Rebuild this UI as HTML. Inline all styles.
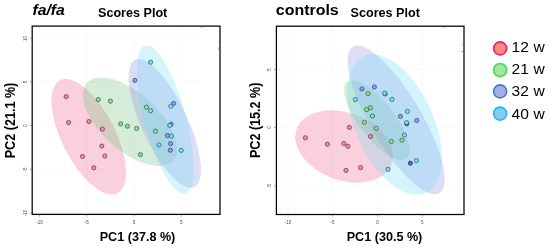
<!DOCTYPE html>
<html><head><meta charset="utf-8"><title>Scores Plot</title>
<style>
html,body{margin:0;padding:0;background:#fff;}
body{width:550px;height:247px;overflow:hidden;}
svg{display:block;font-family:"Liberation Sans",Arial,sans-serif;}
.t{font-weight:bold;fill:#000;}
.tk{font-size:4.5px;fill:#444;}
.grid{stroke:#f0f0f0;stroke-width:0.5;}
.pt{stroke-width:0.75;}
</style></head><body>
<svg width="550" height="247" viewBox="0 0 550 247">
<rect width="550" height="247" fill="#fff"/>
<line class="grid" x1="39.5" y1="26.1" x2="39.5" y2="214.4"/>
<line class="grid" x1="86.8" y1="26.1" x2="86.8" y2="214.4"/>
<line class="grid" x1="134" y1="26.1" x2="134" y2="214.4"/>
<line class="grid" x1="181.3" y1="26.1" x2="181.3" y2="214.4"/>
<line class="grid" x1="32.2" y1="38.3" x2="200" y2="38.3"/>
<line class="grid" x1="32.2" y1="81.8" x2="200" y2="81.8"/>
<line class="grid" x1="32.2" y1="125.5" x2="200" y2="125.5"/>
<line class="grid" x1="32.2" y1="169.3" x2="200" y2="169.3"/>
<line class="grid" x1="32.2" y1="213" x2="200" y2="213"/>
<ellipse cx="88.75" cy="136.75" rx="63.31" ry="26.73" transform="rotate(63.12 88.75 136.75)" fill="rgba(238,98,138,0.30)"/>
<ellipse cx="129.85" cy="121.70" rx="57.98" ry="28.70" transform="rotate(42.05 129.85 121.70)" fill="rgba(120,196,134,0.32)"/>
<ellipse cx="164.75" cy="123.40" rx="70.20" ry="23.00" transform="rotate(65.10 164.75 123.40)" fill="rgba(138,145,232,0.30)"/>
<ellipse cx="165.30" cy="119.65" rx="76.80" ry="20.80" transform="rotate(74.80 165.30 119.65)" fill="rgba(118,218,245,0.30)"/>
<circle class="pt" cx="66.2" cy="96.6" r="2.1" fill="#f888a8" stroke="#6e3448"/>
<circle class="pt" cx="68.6" cy="122.5" r="2.1" fill="#f888a8" stroke="#6e3448"/>
<circle class="pt" cx="88.9" cy="121.5" r="2.1" fill="#f888a8" stroke="#6e3448"/>
<circle class="pt" cx="102.4" cy="129.1" r="2.1" fill="#f888a8" stroke="#6e3448"/>
<circle class="pt" cx="101.8" cy="146.1" r="2.1" fill="#f888a8" stroke="#6e3448"/>
<circle class="pt" cx="82.5" cy="156.5" r="2.1" fill="#f888a8" stroke="#6e3448"/>
<circle class="pt" cx="104.8" cy="156" r="2.1" fill="#f888a8" stroke="#6e3448"/>
<circle class="pt" cx="93.8" cy="167.8" r="2.1" fill="#f888a8" stroke="#6e3448"/>
<circle class="pt" cx="98.2" cy="99.6" r="2.1" fill="#8ae29c" stroke="#36603f"/>
<circle class="pt" cx="110.4" cy="101.2" r="2.1" fill="#8ae29c" stroke="#36603f"/>
<circle class="pt" cx="120.6" cy="123.9" r="2.1" fill="#8ae29c" stroke="#36603f"/>
<circle class="pt" cx="127.4" cy="126.2" r="2.1" fill="#8ae29c" stroke="#36603f"/>
<circle class="pt" cx="136.6" cy="128.5" r="2.1" fill="#8ae29c" stroke="#36603f"/>
<circle class="pt" cx="155.4" cy="131.2" r="2.1" fill="#8ae29c" stroke="#36603f"/>
<circle class="pt" cx="140.4" cy="154.6" r="2.1" fill="#8ae29c" stroke="#36603f"/>
<circle class="pt" cx="146.4" cy="107.2" r="2.1" fill="#8ae29c" stroke="#36603f"/>
<circle class="pt" cx="134.9" cy="80.4" r="2.1" fill="#88a0ee" stroke="#38467e"/>
<circle class="pt" cx="173.6" cy="103.4" r="2.1" fill="#88a0ee" stroke="#38467e"/>
<circle class="pt" cx="171.2" cy="124.2" r="2.1" fill="#88a0ee" stroke="#38467e"/>
<circle class="pt" cx="167.4" cy="135.6" r="2.1" fill="#88a0ee" stroke="#38467e"/>
<circle class="pt" cx="170.6" cy="143.6" r="2.1" fill="#88a0ee" stroke="#38467e"/>
<circle class="pt" cx="170.4" cy="150.2" r="2.1" fill="#88a0ee" stroke="#38467e"/>
<circle class="pt" cx="150.6" cy="62.2" r="2.1" fill="#78e2f0" stroke="#2a5e6c"/>
<circle class="pt" cx="150.6" cy="110.8" r="2.1" fill="#78e2f0" stroke="#2a5e6c"/>
<circle class="pt" cx="170.8" cy="106.2" r="2.1" fill="#78e2f0" stroke="#2a5e6c"/>
<circle class="pt" cx="169.8" cy="125.4" r="2.1" fill="#78e2f0" stroke="#2a5e6c"/>
<circle class="pt" cx="171.4" cy="136" r="2.1" fill="#78e2f0" stroke="#2a5e6c"/>
<circle class="pt" cx="159" cy="145" r="2.1" fill="#78e2f0" stroke="#2a5e6c"/>
<circle class="pt" cx="181.2" cy="150.4" r="2.1" fill="#78e2f0" stroke="#2a5e6c"/>
<rect x="32.2" y="26.1" width="187.8" height="188.3" fill="none" stroke="#000" stroke-width="1.25"/>
<line x1="39.5" y1="214.4" x2="39.5" y2="216.6" stroke="#555" stroke-width="0.5"/>
<text class="tk" x="39.5" y="223.8" text-anchor="middle">-10</text>
<line x1="86.8" y1="214.4" x2="86.8" y2="216.6" stroke="#555" stroke-width="0.5"/>
<text class="tk" x="86.8" y="223.8" text-anchor="middle">-5</text>
<line x1="134" y1="214.4" x2="134" y2="216.6" stroke="#555" stroke-width="0.5"/>
<text class="tk" x="134" y="223.8" text-anchor="middle">0</text>
<line x1="181.3" y1="214.4" x2="181.3" y2="216.6" stroke="#555" stroke-width="0.5"/>
<text class="tk" x="181.3" y="223.8" text-anchor="middle">5</text>
<line x1="29.800000000000004" y1="38.3" x2="32.2" y2="38.3" stroke="#555" stroke-width="0.5"/>
<text class="tk" transform="translate(26.8 38.4) rotate(-90)" text-anchor="middle">10</text>
<line x1="29.800000000000004" y1="81.8" x2="32.2" y2="81.8" stroke="#555" stroke-width="0.5"/>
<text class="tk" transform="translate(26.8 81.9) rotate(-90)" text-anchor="middle">5</text>
<line x1="29.800000000000004" y1="125.5" x2="32.2" y2="125.5" stroke="#555" stroke-width="0.5"/>
<text class="tk" transform="translate(26.8 125.6) rotate(-90)" text-anchor="middle">0</text>
<line x1="29.800000000000004" y1="169.3" x2="32.2" y2="169.3" stroke="#555" stroke-width="0.5"/>
<text class="tk" transform="translate(26.8 169.4) rotate(-90)" text-anchor="middle">-5</text>
<line x1="29.800000000000004" y1="213" x2="32.2" y2="213" stroke="#555" stroke-width="0.5"/>
<text class="tk" transform="translate(26.8 213.1) rotate(-90)" text-anchor="middle">-10</text>
<line class="grid" x1="288" y1="26.2" x2="288" y2="214.5"/>
<line class="grid" x1="332.6" y1="26.2" x2="332.6" y2="214.5"/>
<line class="grid" x1="377.5" y1="26.2" x2="377.5" y2="214.5"/>
<line class="grid" x1="422.3" y1="26.2" x2="422.3" y2="214.5"/>
<line class="grid" x1="276.4" y1="69.4" x2="461" y2="69.4"/>
<line class="grid" x1="276.4" y1="127.3" x2="461" y2="127.3"/>
<line class="grid" x1="276.4" y1="185.9" x2="461" y2="185.9"/>
<ellipse cx="344.10" cy="146.50" rx="50.60" ry="33.78" transform="rotate(20.19 344.10 146.50)" fill="rgba(238,98,138,0.30)"/>
<ellipse cx="376.75" cy="120.00" rx="48.49" ry="17.93" transform="rotate(52.53 376.75 120.00)" fill="rgba(120,196,134,0.32)"/>
<ellipse cx="396.10" cy="119.95" rx="85.01" ry="25.57" transform="rotate(59.45 396.10 119.95)" fill="rgba(138,145,232,0.30)"/>
<ellipse cx="394.65" cy="124.55" rx="75.08" ry="39.13" transform="rotate(65.58 394.65 124.55)" fill="rgba(118,218,245,0.30)"/>
<circle class="pt" cx="305.4" cy="137.8" r="2.1" fill="#f888a8" stroke="#6e3448"/>
<circle class="pt" cx="327.4" cy="144.2" r="2.1" fill="#f888a8" stroke="#6e3448"/>
<circle class="pt" cx="343.8" cy="143.5" r="2.1" fill="#f888a8" stroke="#6e3448"/>
<circle class="pt" cx="347.9" cy="146.3" r="2.1" fill="#f888a8" stroke="#6e3448"/>
<circle class="pt" cx="346" cy="170.4" r="2.1" fill="#f888a8" stroke="#6e3448"/>
<circle class="pt" cx="349.4" cy="127.4" r="2.1" fill="#f888a8" stroke="#6e3448"/>
<circle class="pt" cx="370.6" cy="136.4" r="2.1" fill="#f888a8" stroke="#6e3448"/>
<circle class="pt" cx="360.6" cy="167.6" r="2.1" fill="#f888a8" stroke="#6e3448"/>
<circle class="pt" cx="368" cy="93.7" r="2.1" fill="#8ae29c" stroke="#36603f"/>
<circle class="pt" cx="366.6" cy="109.6" r="2.1" fill="#8ae29c" stroke="#36603f"/>
<circle class="pt" cx="370.4" cy="107.8" r="2.1" fill="#8ae29c" stroke="#36603f"/>
<circle class="pt" cx="372.4" cy="116" r="2.1" fill="#8ae29c" stroke="#36603f"/>
<circle class="pt" cx="364.4" cy="122.4" r="2.1" fill="#8ae29c" stroke="#36603f"/>
<circle class="pt" cx="376.2" cy="128.2" r="2.1" fill="#8ae29c" stroke="#36603f"/>
<circle class="pt" cx="391.4" cy="141.4" r="2.1" fill="#8ae29c" stroke="#36603f"/>
<circle class="pt" cx="402" cy="140.2" r="2.1" fill="#8ae29c" stroke="#36603f"/>
<circle class="pt" cx="362" cy="89" r="2.1" fill="#88a0ee" stroke="#38467e"/>
<circle class="pt" cx="374.4" cy="87" r="2.1" fill="#88a0ee" stroke="#38467e"/>
<circle class="pt" cx="385.2" cy="94" r="2.1" fill="#88a0ee" stroke="#38467e"/>
<circle class="pt" cx="400.4" cy="116.4" r="2.1" fill="#88a0ee" stroke="#38467e"/>
<circle class="pt" cx="416.8" cy="120.5" r="2.1" fill="#88a0ee" stroke="#38467e"/>
<circle class="pt" cx="406.8" cy="123.7" r="2.1" fill="#2c5c8c" stroke="#203850"/>
<circle class="pt" cx="410.4" cy="163.2" r="2.1" fill="#4a6cd8" stroke="#28305c"/>
<circle class="pt" cx="384.6" cy="93.2" r="2.1" fill="#78e2f0" stroke="#2a5e6c"/>
<circle class="pt" cx="392" cy="99.4" r="2.1" fill="#78e2f0" stroke="#2a5e6c"/>
<circle class="pt" cx="355.4" cy="99.6" r="2.1" fill="#78e2f0" stroke="#2a5e6c"/>
<circle class="pt" cx="407.4" cy="111.4" r="2.1" fill="#78e2f0" stroke="#2a5e6c"/>
<circle class="pt" cx="406.6" cy="122.6" r="2.1" fill="#78e2f0" stroke="#2a5e6c"/>
<circle class="pt" cx="404.4" cy="135" r="2.1" fill="#78e2f0" stroke="#2a5e6c"/>
<circle class="pt" cx="416.4" cy="160.6" r="2.1" fill="#78e2f0" stroke="#2a5e6c"/>
<circle class="pt" cx="388" cy="169.4" r="2.1" fill="#78e2f0" stroke="#2a5e6c"/>
<rect x="276.4" y="26.2" width="187.60000000000002" height="188.3" fill="none" stroke="#000" stroke-width="1.25"/>
<line x1="288" y1="214.5" x2="288" y2="216.7" stroke="#555" stroke-width="0.5"/>
<text class="tk" x="288" y="223.8" text-anchor="middle">-10</text>
<line x1="332.6" y1="214.5" x2="332.6" y2="216.7" stroke="#555" stroke-width="0.5"/>
<text class="tk" x="332.6" y="223.8" text-anchor="middle">-5</text>
<line x1="377.5" y1="214.5" x2="377.5" y2="216.7" stroke="#555" stroke-width="0.5"/>
<text class="tk" x="377.5" y="223.8" text-anchor="middle">0</text>
<line x1="422.3" y1="214.5" x2="422.3" y2="216.7" stroke="#555" stroke-width="0.5"/>
<text class="tk" x="422.3" y="223.8" text-anchor="middle">5</text>
<line x1="274.0" y1="69.4" x2="276.4" y2="69.4" stroke="#555" stroke-width="0.5"/>
<text class="tk" transform="translate(271.0 69.5) rotate(-90)" text-anchor="middle">5</text>
<line x1="274.0" y1="127.3" x2="276.4" y2="127.3" stroke="#555" stroke-width="0.5"/>
<text class="tk" transform="translate(271.0 127.4) rotate(-90)" text-anchor="middle">0</text>
<line x1="274.0" y1="185.9" x2="276.4" y2="185.9" stroke="#555" stroke-width="0.5"/>
<text class="tk" transform="translate(271.0 186.0) rotate(-90)" text-anchor="middle">-5</text>
<g stroke="#555" stroke-width="0.6"><line x1="201" y1="27.4" x2="202.2" y2="27.4"/><line x1="219" y1="46.8" x2="219" y2="50"/><line x1="443.5" y1="27.4" x2="444.7" y2="27.4"/><line x1="461.6" y1="44.6" x2="462.6" y2="45.4"/><line x1="461.6" y1="51.6" x2="463.2" y2="51.6"/></g>
<text class="t" transform="translate(32.4 15) scale(1.04 0.99)" font-size="15.2" font-style="italic">fa/fa</text>
<text class="t" transform="translate(98 17) scale(1 1.03)" font-size="12.6">Scores Plot</text>
<text class="t" transform="translate(275.8 15) scale(1.03 0.99)" font-size="15.5">controls</text>
<text class="t" transform="translate(350.6 17) scale(1 1.03)" font-size="12.6">Scores Plot</text>
<text class="t" transform="translate(137.5 241.1) scale(1 1.03)" font-size="12.6" text-anchor="middle">PC1 (37.8 %)</text>
<text class="t" transform="translate(384.5 241.1) scale(1 1.03)" font-size="12.6" text-anchor="middle">PC1 (30.5 %)</text>
<text class="t" transform="translate(15.0 120.5) rotate(-90) scale(1 1.10)" font-size="12.6" text-anchor="middle">PC2 (21.1 %)</text>
<text class="t" transform="translate(259.9 120.3) rotate(-90) scale(1 1.10)" font-size="12.6" text-anchor="middle">PC2 (15.2 %)</text>
<circle cx="500.1" cy="48.4" r="6.5" fill="#fa8a84" stroke="#ff1460" stroke-width="1.6"/>
<text transform="translate(511.5 52.1) scale(1.055 1)" font-size="14.8" fill="#000" word-spacing="0.4">12 w</text>
<circle cx="500.1" cy="70.0" r="6.5" fill="#a6e2a4" stroke="#3be04c" stroke-width="1.6"/>
<text transform="translate(511.5 74.4) scale(1.055 1)" font-size="14.8" fill="#000" word-spacing="0.4">21 w</text>
<circle cx="500.1" cy="91.4" r="6.5" fill="#a0b2e0" stroke="#4a74d2" stroke-width="1.6"/>
<text transform="translate(511.5 95.8) scale(1.055 1)" font-size="14.8" fill="#000" word-spacing="0.4">32 w</text>
<circle cx="500.1" cy="113.6" r="6.5" fill="#84cdf2" stroke="#22b2f2" stroke-width="1.6"/>
<text transform="translate(511.5 118.7) scale(1.055 1)" font-size="14.8" fill="#000" word-spacing="0.4">40 w</text>
</svg></body></html>
